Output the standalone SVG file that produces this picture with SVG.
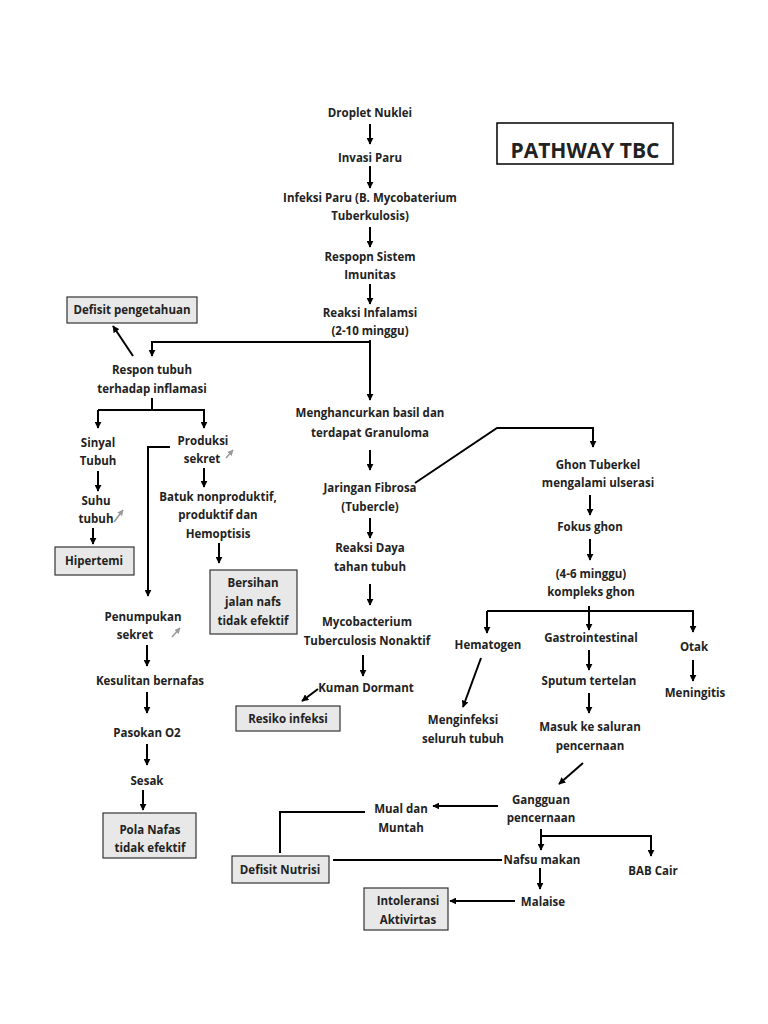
<svg xmlns="http://www.w3.org/2000/svg" width="768" height="1024" viewBox="0 0 768 1024">
<defs>
<marker id="ah" viewBox="0 0 10 10" refX="9" refY="5" markerWidth="7" markerHeight="7" markerUnits="userSpaceOnUse" orient="auto"><path d="M0,0 L10,5 L0,10 z" fill="#000"/></marker>
<marker id="ag" viewBox="0 0 10 10" refX="9" refY="5" markerWidth="6" markerHeight="6" markerUnits="userSpaceOnUse" orient="auto"><path d="M0,0 L10,5 L0,10 z" fill="#999"/></marker>
<style>
text{font-family:"Open Sans","Liberation Sans",sans-serif;font-weight:bold;font-size:11.5px;fill:#222;text-anchor:middle}
.c line,.c polyline{stroke:#000;stroke-width:2;fill:none}
.a{marker-end:url(#ah)}
.g{stroke:#999 !important;stroke-width:1.5 !important;marker-end:url(#ag)}
.box{fill:#e8e8e8;stroke:#333;stroke-width:1.2}
</style>
</defs>
<rect width="768" height="1024" fill="#fff"/>
<g id="title"><rect x="497" y="123" width="176" height="41" fill="#fff" stroke="#000" stroke-width="1.5"/><text x="585" y="158" style="font-size:21px">PATHWAY TBC</text></g>
<g id="n1"><text x="370" y="117">Droplet Nuklei</text></g>
<g id="n2"><text x="370" y="162">Invasi Paru</text></g>
<g id="n3"><text x="370" y="202">Infeksi Paru (B. Mycobaterium</text><text x="370" y="220">Tuberkulosis)</text></g>
<g id="n4"><text x="370" y="261">Respopn Sistem</text><text x="370" y="279">Imunitas</text></g>
<g id="n5"><text x="370" y="317">Reaksi Infalamsi</text><text x="370" y="335">(2-10 minggu)</text></g>
<g id="n6"><text x="370" y="417">Menghancurkan basil dan</text><text x="370" y="437">terdapat Granuloma</text></g>
<g id="n7"><text x="370" y="492">Jaringan Fibrosa</text><text x="370" y="511">(Tubercle)</text></g>
<g id="n8"><text x="370" y="552">Reaksi Daya</text><text x="370" y="571">tahan tubuh</text></g>
<g id="n9"><text x="367" y="626">Mycobacterium</text><text x="367" y="645">Tuberculosis Nonaktif</text></g>
<g id="n10"><text x="366" y="692">Kuman Dormant</text></g>
<g id="n11"><rect class="box" x="236" y="706" width="104" height="25"/><text x="288" y="723">Resiko infeksi</text></g>
<g id="n12"><rect class="box" x="67" y="297" width="130" height="26"/><text x="132" y="314">Defisit pengetahuan</text></g>
<g id="n13"><text x="152" y="374">Respon tubuh</text><text x="152" y="393">terhadap inflamasi</text></g>
<g id="n14"><text x="98" y="447">Sinyal</text><text x="98" y="465">Tubuh</text></g>
<g id="n15"><text x="96" y="505">Suhu</text><text x="96" y="523">tubuh</text></g>
<g id="n16"><rect class="box" x="55" y="547" width="79" height="28"/><text x="94" y="565">Hipertemi</text></g>
<g id="n17"><text x="203" y="445">Produksi</text><text x="202" y="463">sekret</text></g>
<g id="n18"><text x="218" y="501">Batuk nonproduktif,</text><text x="218" y="519">produktif dan</text><text x="218" y="538">Hemoptisis</text></g>
<g id="n19"><rect class="box" x="210" y="570" width="87" height="64"/><text x="253" y="587">Bersihan</text><text x="253" y="606">jalan nafs</text><text x="253" y="625">tidak efektif</text></g>
<g id="n20"><text x="143" y="621">Penumpukan</text><text x="135" y="639">sekret</text></g>
<g id="n21"><text x="150" y="685">Kesulitan bernafas</text></g>
<g id="n22"><text x="147" y="737">Pasokan O2</text></g>
<g id="n23"><text x="147" y="785">Sesak</text></g>
<g id="n24"><rect class="box" x="103" y="813" width="93" height="45"/><text x="150" y="834">Pola Nafas</text><text x="150" y="852">tidak efektif</text></g>
<g id="n25"><text x="598" y="469">Ghon Tuberkel</text><text x="598" y="487">mengalami ulserasi</text></g>
<g id="n26"><text x="590" y="531">Fokus ghon</text></g>
<g id="n27"><text x="591" y="578">(4-6 minggu)</text><text x="591" y="596">kompleks ghon</text></g>
<g id="n28"><text x="488" y="649">Hematogen</text></g>
<g id="n29"><text x="591" y="642">Gastrointestinal</text></g>
<g id="n30"><text x="694" y="651">Otak</text></g>
<g id="n31"><text x="463" y="724">Menginfeksi</text><text x="463" y="743">seluruh tubuh</text></g>
<g id="n32"><text x="589" y="685">Sputum tertelan</text></g>
<g id="n33"><text x="590" y="731">Masuk ke saluran</text><text x="590" y="750">pencernaan</text></g>
<g id="n34"><text x="695" y="697">Meningitis</text></g>
<g id="n35"><text x="541" y="804">Gangguan</text><text x="541" y="822">pencernaan</text></g>
<g id="n36"><text x="401" y="813">Mual dan</text><text x="401" y="832">Muntah</text></g>
<g id="n37"><rect class="box" x="232" y="856" width="97" height="27"/><text x="280" y="874">Defisit Nutrisi</text></g>
<g id="n38"><text x="542" y="864">Nafsu makan</text></g>
<g id="n39"><text x="653" y="875">BAB Cair</text></g>
<g id="n40"><text x="543" y="906">Malaise</text></g>
<g id="n41"><rect class="box" x="364" y="888" width="84" height="42"/><text x="408" y="905">Intoleransi</text><text x="408" y="924">Aktivirtas</text></g>
<g id="connectors" class="c">
<line class="a" x1="370" y1="124" x2="370" y2="144"/>
<line class="a" x1="370" y1="166" x2="370" y2="188"/>
<line class="a" x1="370" y1="227" x2="370" y2="247"/>
<line class="a" x1="370" y1="284" x2="370" y2="304"/>
<polyline class="a" points="370,340 370,400"/>
<polyline class="a" points="370,342 152,342 152,356"/>
<line class="a" x1="370" y1="450" x2="370" y2="470"/>
<polyline class="a" points="415,483 497,428 593,428 593,447"/>
<line class="a" x1="370" y1="518" x2="370" y2="538"/>
<line class="a" x1="370" y1="584" x2="370" y2="605"/>
<line class="a" x1="363" y1="655" x2="363" y2="676"/>
<line class="a" x1="318" y1="689" x2="302" y2="701"/>
<line class="a" x1="133" y1="356" x2="113" y2="326"/>
<line x1="152" y1="398" x2="152" y2="410"/>
<polyline class="a" points="98,410 98,428"/>
<polyline class="a" points="98,410 204,410 204,428"/>
<line class="a" x1="98" y1="471" x2="98" y2="491"/>
<line class="a" x1="93" y1="528" x2="93" y2="544"/>
<line class="a" x1="204" y1="468" x2="204" y2="487"/>
<line class="a" x1="219" y1="543" x2="219" y2="563"/>
<polyline class="a" points="170,447 148,447 148,596"/>
<line class="a" x1="147" y1="645" x2="147" y2="666"/>
<line class="a" x1="147" y1="692" x2="147" y2="713"/>
<line class="a" x1="147" y1="744" x2="147" y2="765"/>
<line class="a" x1="143" y1="790" x2="143" y2="810"/>
<line class="g" x1="226" y1="458" x2="233" y2="450"/>
<line class="g" x1="114" y1="522" x2="123" y2="510"/>
<line class="g" x1="172" y1="637" x2="180" y2="628"/>
<line class="a" x1="590" y1="495" x2="590" y2="515"/>
<line class="a" x1="590" y1="539" x2="590" y2="560"/>
<polyline class="a" points="487,611 487,633"/>
<polyline class="a" points="487,611 693,611 693,632"/>
<line class="a" x1="589" y1="606" x2="589" y2="630"/>
<line class="a" x1="481" y1="658" x2="463" y2="707"/>
<line class="a" x1="589" y1="650" x2="589" y2="670"/>
<line class="a" x1="589" y1="693" x2="589" y2="713"/>
<line class="a" x1="693" y1="660" x2="693" y2="681"/>
<line class="a" x1="583" y1="763" x2="559" y2="784"/>
<line class="a" x1="498" y1="806" x2="433" y2="806"/>
<polyline points="365,812 280,812 280,853"/>
<line x1="333" y1="860" x2="502" y2="860"/>
<line class="a" x1="541" y1="829" x2="541" y2="850"/>
<polyline class="a" points="541,836 651,836 651,856"/>
<line class="a" x1="540" y1="868" x2="540" y2="889"/>
<line class="a" x1="515" y1="901" x2="450" y2="901"/>
</g>
</svg>
